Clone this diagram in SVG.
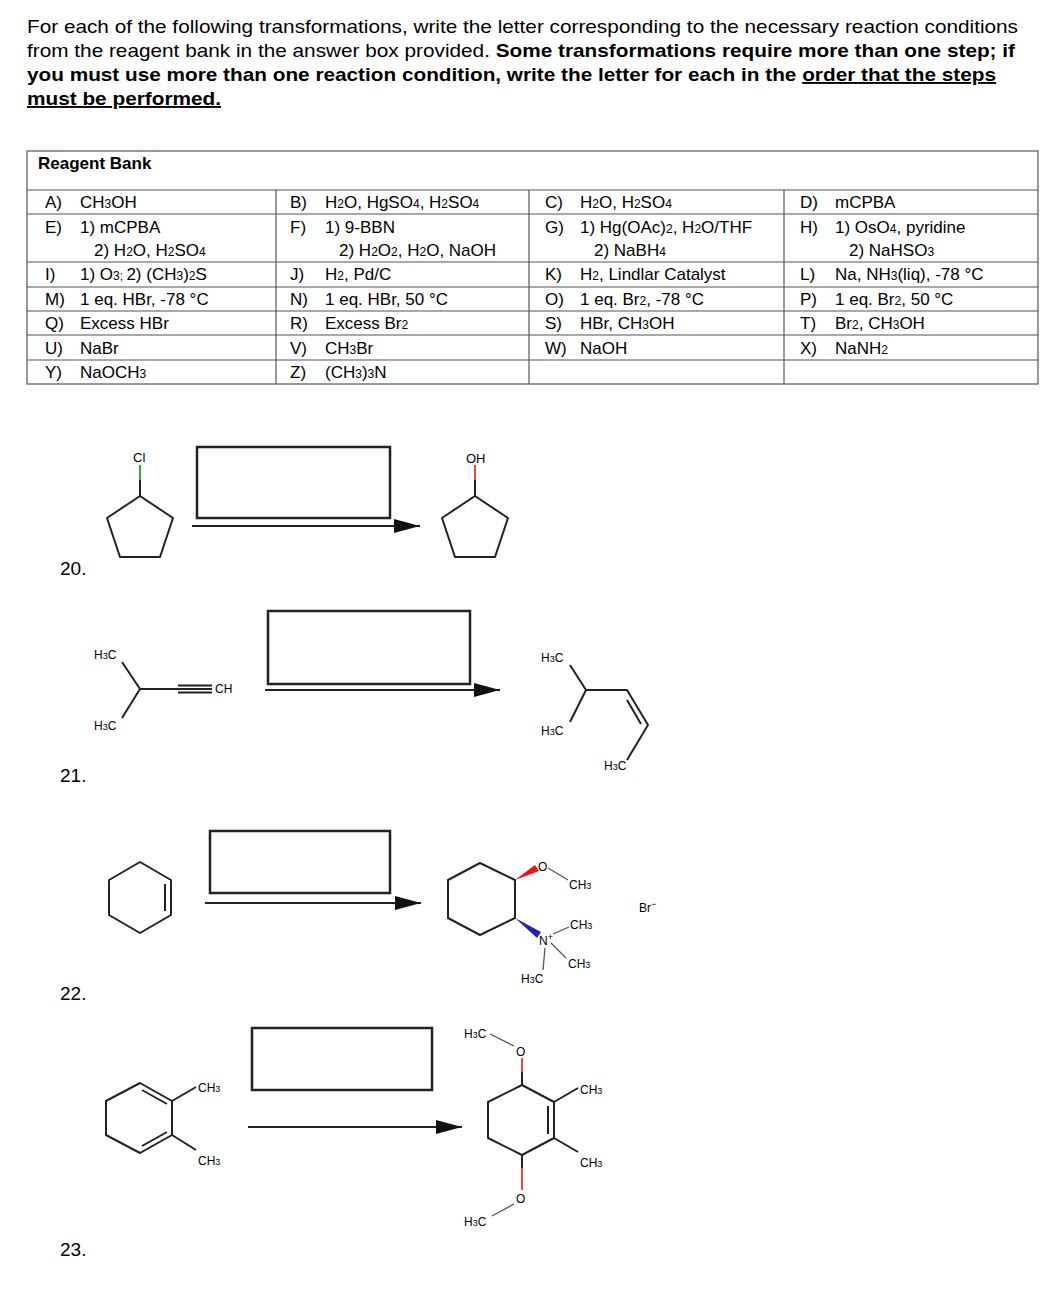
<svg xmlns="http://www.w3.org/2000/svg" width="1054" height="1302" viewBox="0 0 1054 1302">
<style>
text{font-family:"Liberation Sans",Arial,sans-serif;fill:#000}
.p{font-size:19px}
.t{font-size:17px}
.s{font-size:12px}
.m{font-size:12px}
.ms{font-size:9px}
.n{font-size:19px}
.g{stroke:#555;stroke-width:1.2;fill:none}
.b{stroke:#222;stroke-width:2;fill:none;stroke-linejoin:round}
.box{stroke:#222;stroke-width:2.5;fill:none}
.ar{stroke:#222;stroke-width:2;fill:none}
</style>
<defs>
<marker id="ah" viewBox="0 0 26 14" refX="26" refY="7" markerWidth="26" markerHeight="14" markerUnits="userSpaceOnUse" orient="auto"><path d="M0,0L26,7L0,14z" fill="#111"/></marker>
</defs>
<rect width="1054" height="1302" fill="#fff"/>
<g id="intro">
<text class="p" x="27" y="33" textLength="991" lengthAdjust="spacingAndGlyphs">For each of the following transformations, write the letter corresponding to the necessary reaction conditions</text>
<text class="p" x="27" y="57" textLength="988" lengthAdjust="spacingAndGlyphs">from the reagent bank in the answer box provided. <tspan font-weight="bold">Some transformations require more than one step; if</tspan></text>
<text class="p" x="27" y="81" font-weight="bold" textLength="969" lengthAdjust="spacingAndGlyphs">you must use more than one reaction condition, write the letter for each in the <tspan text-decoration="underline">order that the steps</tspan></text>
<text class="p" x="27" y="105" font-weight="bold" text-decoration="underline" textLength="194" lengthAdjust="spacingAndGlyphs">must be performed.</text>
</g>
<g id="table">
<rect x="27" y="151" width="1011" height="233" class="g"/>
<line class="g" x1="27" y1="190" x2="1038" y2="190"/>
<line class="g" x1="27" y1="214" x2="1038" y2="214"/>
<line class="g" x1="27" y1="262" x2="1038" y2="262"/>
<line class="g" x1="27" y1="287" x2="1038" y2="287"/>
<line class="g" x1="27" y1="311" x2="1038" y2="311"/>
<line class="g" x1="27" y1="335" x2="1038" y2="335"/>
<line class="g" x1="27" y1="360" x2="1038" y2="360"/>
<line class="g" x1="276" y1="190" x2="276" y2="384"/>
<line class="g" x1="529" y1="190" x2="529" y2="384"/>
<line class="g" x1="784" y1="190" x2="784" y2="384"/>
<text class="t" x="38" y="169" font-weight="bold">Reagent Bank</text>
<text class="t" x="45" y="208">A)</text><text class="t" x="80" y="208">CH<tspan class="s">3</tspan>OH</text>
<text class="t" x="290" y="208">B)</text><text class="t" x="325" y="208">H<tspan class="s">2</tspan>O, HgSO<tspan class="s">4</tspan>, H<tspan class="s">2</tspan>SO<tspan class="s">4</tspan></text>
<text class="t" x="545" y="208">C)</text><text class="t" x="580" y="208">H<tspan class="s">2</tspan>O, H<tspan class="s">2</tspan>SO<tspan class="s">4</tspan></text>
<text class="t" x="800" y="208">D)</text><text class="t" x="835" y="208">mCPBA</text>
<text class="t" x="45" y="233">E)</text><text class="t" x="80" y="233">1) mCPBA</text><text class="t" x="94" y="256">2) H<tspan class="s">2</tspan>O, H<tspan class="s">2</tspan>SO<tspan class="s">4</tspan></text>
<text class="t" x="290" y="233">F)</text><text class="t" x="325" y="233">1) 9-BBN</text><text class="t" x="339" y="256">2) H<tspan class="s">2</tspan>O<tspan class="s">2</tspan>, H<tspan class="s">2</tspan>O, NaOH</text>
<text class="t" x="545" y="233">G)</text><text class="t" x="580" y="233">1) Hg(OAc)<tspan class="s">2</tspan>, H<tspan class="s">2</tspan>O/THF</text><text class="t" x="594" y="256">2) NaBH<tspan class="s">4</tspan></text>
<text class="t" x="800" y="233">H)</text><text class="t" x="835" y="233">1) OsO<tspan class="s">4</tspan>, pyridine</text><text class="t" x="849" y="256">2) NaHSO<tspan class="s">3</tspan></text>
<text class="t" x="45" y="280">I)</text><text class="t" x="80" y="280">1) O<tspan class="s">3; </tspan>2) (CH<tspan class="s">3</tspan>)<tspan class="s">2</tspan>S</text>
<text class="t" x="290" y="280">J)</text><text class="t" x="325" y="280">H<tspan class="s">2</tspan>, Pd/C</text>
<text class="t" x="545" y="280">K)</text><text class="t" x="580" y="280">H<tspan class="s">2</tspan>, Lindlar Catalyst</text>
<text class="t" x="800" y="280">L)</text><text class="t" x="835" y="280">Na, NH<tspan class="s">3</tspan>(liq), -78 °C</text>
<text class="t" x="45" y="305">M)</text><text class="t" x="80" y="305">1 eq. HBr, -78 °C</text>
<text class="t" x="290" y="305">N)</text><text class="t" x="325" y="305">1 eq. HBr, 50 °C</text>
<text class="t" x="545" y="305">O)</text><text class="t" x="580" y="305">1 eq. Br<tspan class="s">2</tspan>, -78 °C</text>
<text class="t" x="800" y="305">P)</text><text class="t" x="835" y="305">1 eq. Br<tspan class="s">2</tspan>, 50 °C</text>
<text class="t" x="45" y="329">Q)</text><text class="t" x="80" y="329">Excess HBr</text>
<text class="t" x="290" y="329">R)</text><text class="t" x="325" y="329">Excess Br<tspan class="s">2</tspan></text>
<text class="t" x="545" y="329">S)</text><text class="t" x="580" y="329">HBr, CH<tspan class="s">3</tspan>OH</text>
<text class="t" x="800" y="329">T)</text><text class="t" x="835" y="329">Br<tspan class="s">2</tspan>, CH<tspan class="s">3</tspan>OH</text>
<text class="t" x="45" y="354">U)</text><text class="t" x="80" y="354">NaBr</text>
<text class="t" x="290" y="354">V)</text><text class="t" x="325" y="354">CH<tspan class="s">3</tspan>Br</text>
<text class="t" x="545" y="354">W)</text><text class="t" x="580" y="354">NaOH</text>
<text class="t" x="800" y="354">X)</text><text class="t" x="835" y="354">NaNH<tspan class="s">2</tspan></text>
<text class="t" x="45" y="378">Y)</text><text class="t" x="80" y="378">NaOCH<tspan class="s">3</tspan></text>
<text class="t" x="290" y="378">Z)</text><text class="t" x="325" y="378">(CH<tspan class="s">3</tspan>)<tspan class="s">3</tspan>N</text>
</g>
<g id="numbers">
<text class="n" x="60" y="575">20.</text>
<text class="n" x="60" y="782">21.</text>
<text class="n" x="60" y="1000">22.</text>
<text class="n" x="60" y="1256">23.</text>
</g>
<g id="p20-reactant">
<text x="133" y="462" font-size="13" fill="#2a2">Cl</text>
<line x1="140" y1="465" x2="140" y2="480" stroke="#3a3" stroke-width="2"/>
<line x1="140" y1="480" x2="140" y2="496" class="b"/>
<path class="b" d="M140,496L173,518L160,557L120,557L107,518Z"/>
</g>
<g id="p20-box"><rect class="box" x="197" y="447" width="193" height="71"/></g>
<g id="p20-product">
<text x="466" y="463" font-size="13" fill="#e33">OH</text>
<line x1="475" y1="465" x2="475" y2="480" stroke="#e44" stroke-width="2"/>
<line x1="475" y1="480" x2="475" y2="496" class="b"/>
<path class="b" d="M475,496L508,518L495,557L455,557L442,518Z"/>
</g>
<g id="p21-reactant">
<text class="m" x="94" y="659">H<tspan class="ms">3</tspan>C</text>
<text class="m" x="94" y="730">H<tspan class="ms">3</tspan>C</text>
<path class="b" d="M122,662L140,689L122,718M140,689L178,689"/>
<path class="b" d="M178,685.5L212,685.5M178,689L212,689M178,692.5L212,692.5" stroke-width="1.5"/>
<text class="m" x="215" y="693">CH</text>
</g>
<g id="p21-box"><rect class="box" x="268" y="611" width="202" height="73"/></g>
<g id="p21-product">
<text class="m" x="541" y="662">H<tspan class="ms">3</tspan>C</text>
<text class="m" x="541" y="735">H<tspan class="ms">3</tspan>C</text>
<text class="m" x="604" y="770">H<tspan class="ms">3</tspan>C</text>
<path class="b" d="M570,665L586,690L570,722M586,690L627,690L648,725L627,760"/>
<line class="b" x1="627" y1="700" x2="641" y2="724" stroke-width="1.5"/>
</g>
<g id="p22-reactant">
<path class="b" d="M140,862L171,880L171,915L140,933L109,915L109,880Z"/>
<line class="b" x1="165" y1="884" x2="165" y2="911" stroke-width="1.5"/>
</g>
<g id="p22-box"><rect class="box" x="210" y="831" width="180" height="62"/></g>
<g id="p22-product">
<path class="b" d="M480,863L515,880L515,918L480,935L448,918L448,880Z"/>
<path d="M515,880L535,865L539,871Z" fill="#e11"/>
<text class="m" x="538" y="871" fill="#e33">O</text>
<line x1="548" y1="868" x2="568" y2="880" stroke="#555" stroke-width="1.3"/>
<text class="m" x="569" y="889">CH<tspan class="ms">3</tspan></text>
<path d="M515,918L541,932L537,938Z" fill="#22a"/>
<text class="m" x="539" y="945" fill="#44c">N<tspan class="ms" dy="-5">+</tspan></text>
<line x1="553" y1="934" x2="569" y2="927" stroke="#555" stroke-width="1.3"/>
<text class="m" x="570" y="929">CH<tspan class="ms">3</tspan></text>
<line x1="551" y1="943" x2="566" y2="958" stroke="#555" stroke-width="1.3"/>
<text class="m" x="568" y="968">CH<tspan class="ms">3</tspan></text>
<line x1="545" y1="948" x2="543" y2="970" stroke="#555" stroke-width="1.3"/>
<text class="m" x="521" y="983">H<tspan class="ms">3</tspan>C</text>
<text class="m" x="639" y="912" fill="#644">Br<tspan class="ms" dy="-5">−</tspan></text>
</g>
<g id="p23-reactant">
<path class="b" d="M140,1083L172,1101L172,1135L140,1153L106,1135L106,1101Z"/>
<path class="b" stroke-width="1.5" d="M142,1090L167,1104M142,1146L167,1132"/>
<path class="b" stroke-width="1.3" d="M172,1101L196,1087M172,1135L196,1150"/>
<text class="m" x="198" y="1092">CH<tspan class="ms">3</tspan></text>
<text class="m" x="198" y="1165">CH<tspan class="ms">3</tspan></text>
</g>
<g id="p23-box"><rect class="box" x="252" y="1028" width="180" height="62"/></g>
<g id="p23-product">
<path class="b" d="M522,1085L554,1102L554,1138L522,1155L488,1138L488,1102Z"/>
<line class="b" x1="548" y1="1106" x2="548" y2="1134" stroke-width="1.5"/>
<line x1="522" y1="1085" x2="522" y2="1072" stroke="#222" stroke-width="2"/>
<line x1="522" y1="1072" x2="522" y2="1058" stroke="#e44" stroke-width="2"/>
<text class="m" x="516" y="1056" fill="#e33">O</text>
<line x1="514" y1="1046" x2="490" y2="1034" stroke="#555" stroke-width="1.3"/>
<text class="m" x="464" y="1038">H<tspan class="ms">3</tspan>C</text>
<line x1="522" y1="1155" x2="522" y2="1168" stroke="#222" stroke-width="2"/>
<line x1="522" y1="1168" x2="522" y2="1190" stroke="#e44" stroke-width="2"/>
<text class="m" x="516" y="1203" fill="#e33">O</text>
<line x1="514" y1="1204" x2="492" y2="1216" stroke="#555" stroke-width="1.3"/>
<text class="m" x="464" y="1226">H<tspan class="ms">3</tspan>C</text>
<path class="b" stroke-width="1.3" d="M554,1102L578,1088M554,1138L578,1152"/>
<text class="m" x="580" y="1094">CH<tspan class="ms">3</tspan></text>
<text class="m" x="580" y="1167">CH<tspan class="ms">3</tspan></text>
</g>
<g id="connectors">
<line class="ar" x1="192" y1="526" x2="420" y2="526" marker-end="url(#ah)"/>
<line class="ar" x1="265" y1="690" x2="500" y2="690" marker-end="url(#ah)"/>
<line class="ar" x1="205" y1="903" x2="421" y2="903" marker-end="url(#ah)"/>
<line class="ar" x1="248" y1="1127" x2="462" y2="1127" marker-end="url(#ah)"/>
</g>
</svg>
